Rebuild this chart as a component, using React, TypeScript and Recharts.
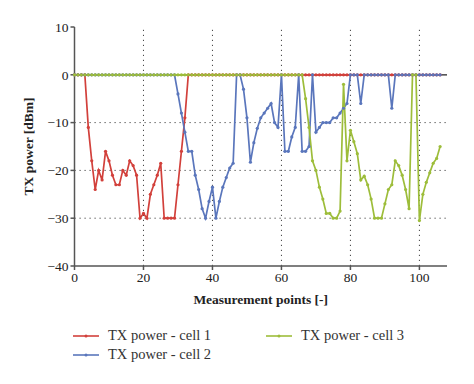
import { LineChart, Line, XAxis, YAxis, ReferenceLine } from 'recharts';

// measured TX power per cell [dBm], one value per measurement point 0..106
const cell1 = [
  0, 0, 0, 0, -11, -18, -24, -20, -22, -16,
  -18, -21, -23, -23, -20, -21, -18, -19, -21, -30,
  -29, -30, -25, -23, -21, -18.5, -30, -30, -30, -30,
  -23, -16, -9, 0, 0, 0, 0, 0, 0, 0,
  0, 0, 0, 0, 0, 0, 0, 0, 0, 0,
  0, 0, 0, 0, 0, 0, 0, 0, 0, 0,
  0, 0, 0, 0, 0, 0, 0, 0, 0, 0,
  0, 0, 0, 0, 0, 0, 0, 0, 0, 0,
  0, 0, 0, 0, 0, 0, 0, 0, 0, 0,
  0, 0, 0, 0, 0, 0, 0, 0, 0, 0,
  0, 0, 0, 0, 0, 0, 0,
];

const cell2 = [
  0, 0, 0, 0, 0, 0, 0, 0, 0, 0,
  0, 0, 0, 0, 0, 0, 0, 0, 0, 0,
  0, 0, 0, 0, 0, 0, 0, 0, 0, 0,
  -4, -8, -12, -16, -16, -21, -24, -28, -30, -26.5,
  -23.5, -30, -26.5, -23.5, -21.5, -19.5, -18.5, 0, 0, -3,
  -9, -18.3, -14.2, -11.2, -9, -8, -7, -6, -10, -11,
  0, -16, -16, -13, -11, 0, -16, -16, -15, 0,
  -12, -11, -10, -10, -10, -9, -9, -8, -7, -6,
  0, 0, 0, -6, 0, 0, 0, 0, 0, 0,
  0, 0, -7, 0, 0, 0, 0, 0, 0, 0,
  0, 0, 0, 0, 0, 0, 0,
];

const cell3 = [
  0, 0, 0, 0, 0, 0, 0, 0, 0, 0,
  0, 0, 0, 0, 0, 0, 0, 0, 0, 0,
  0, 0, 0, 0, 0, 0, 0, 0, 0, 0,
  0, 0, 0, 0, 0, 0, 0, 0, 0, 0,
  0, 0, 0, 0, 0, 0, 0, 0, 0, 0,
  0, 0, 0, 0, 0, 0, 0, 0, 0, 0,
  0, 0, 0, 0, 0, 0, 0, -5, -11, -18,
  -20, -23.5, -26, -29, -29, -30, -30, -28.5, -2, -18,
  -11.6, -14, -16.5, -22, -21.2, -23, -26, -30, -30, -30,
  -27, -24, -23, -18, -19, -21, -24, -28, 0, 0,
  -30.5, -25, -22.5, -20.5, -18.5, -17.5, -15,
];

const xTicks = [0, 20, 40, 60, 80, 100];
const yTicks = [10, 0, -10, -20, -30, -40];
const gridX = [20, 40, 60, 80, 100];
const gridY = [-10, -20, -30];

const series = [
  { key: 'c1', name: 'TX power - cell 1', color: '#d2403b' },
  { key: 'c2', name: 'TX power - cell 2', color: '#5a76bc' },
  { key: 'c3', name: 'TX power - cell 3', color: '#9dbd3a' },
];

const data = cell1.map((v, i) => ({ x: i, c1: v, c2: cell2[i], c3: cell3[i] }));

const FONT = '"Liberation Serif", "DejaVu Serif", serif';
const AXIS = '#555';

const fmt = (v: number) => String(v).replace('-', '\u2212');

function Dot(props: any) {
  const { cx, cy, stroke } = props;
  if (cx == null || cy == null) return null;
  return <circle cx={cx} cy={cy} r={1.6} fill={stroke} stroke="none" />;
}

function LegendBox() {
  const item = (s: typeof series[number], left: number, top: number) => (
    <div key={s.key} style={{ position: 'absolute', left, top, display: 'flex', alignItems: 'center' }}>
      <svg width={26} height={10} style={{ marginRight: 9 }}>
        <line x1={0} y1={5} x2={26} y2={5} stroke={s.color} strokeWidth={1.6} />
        <circle cx={13} cy={5} r={1.5} fill={s.color} />
      </svg>
      <span style={{ fontFamily: FONT, fontSize: 14.5, color: '#333', whiteSpace: 'nowrap' }}>{s.name}</span>
    </div>
  );
  return (
    <div style={{ position: 'absolute', left: 0, top: 327, width: 474, height: 50 }}>
      {item(series[0], 73, 0)}
      {item(series[1], 73, 19)}
      {item(series[2], 266, 0)}
    </div>
  );
}

export default function App() {
  return (
    <div style={{ position: 'absolute', left: 0, top: 0, width: 474, height: 384, background: '#fff' }}>
      <LineChart width={474} height={384} data={data} margin={{ top: 27, right: 27, bottom: 88, left: 24.5 }}>
        {gridX.map(v => (
          <ReferenceLine key={'gx' + v} x={v} stroke="#444" strokeDasharray="1.2 3.8" strokeWidth={1} />
        ))}
        {gridY.map(v => (
          <ReferenceLine key={'gy' + v} y={v} stroke="#444" strokeDasharray="1.2 3.8" strokeWidth={1} />
        ))}
        <ReferenceLine y={0} stroke="#222" strokeWidth={1.2} />
        <XAxis
          dataKey="x"
          type="number"
          domain={[0, 108]}
          ticks={xTicks}
          tickSize={4}
          height={30}
          stroke={AXIS}
          strokeWidth={1.5}
          tick={{ fontSize: 13.5, fill: '#222', fontFamily: FONT }}
          label={{ value: 'Measurement points [-]', position: 'insideBottom', offset: -8, style: { fontSize: 13.5, fontWeight: 'bold', fill: '#222', fontFamily: FONT } }}
        />
        <YAxis
          type="number"
          domain={[-40, 10]}
          ticks={yTicks}
          width={50}
          tickSize={4}
          stroke={AXIS}
          strokeWidth={1.5}
          tickFormatter={fmt}
          tick={{ fontSize: 13.5, fill: '#222', fontFamily: FONT }}
          label={{ value: 'TX power [dBm]', angle: -90, position: 'insideLeft', offset: 4, style: { textAnchor: 'middle', fontSize: 13.5, fontWeight: 'bold', fill: '#222', fontFamily: FONT } }}
        />
        {series.map(s => (
          <Line
            key={s.key}
            dataKey={s.key}
            name={s.name}
            type="linear"
            stroke={s.color}
            strokeWidth={1.7}
            dot={<Dot />}
            activeDot={false}
            isAnimationActive={false}
          />
        ))}
      </LineChart>
      <LegendBox />
    </div>
  );
}
